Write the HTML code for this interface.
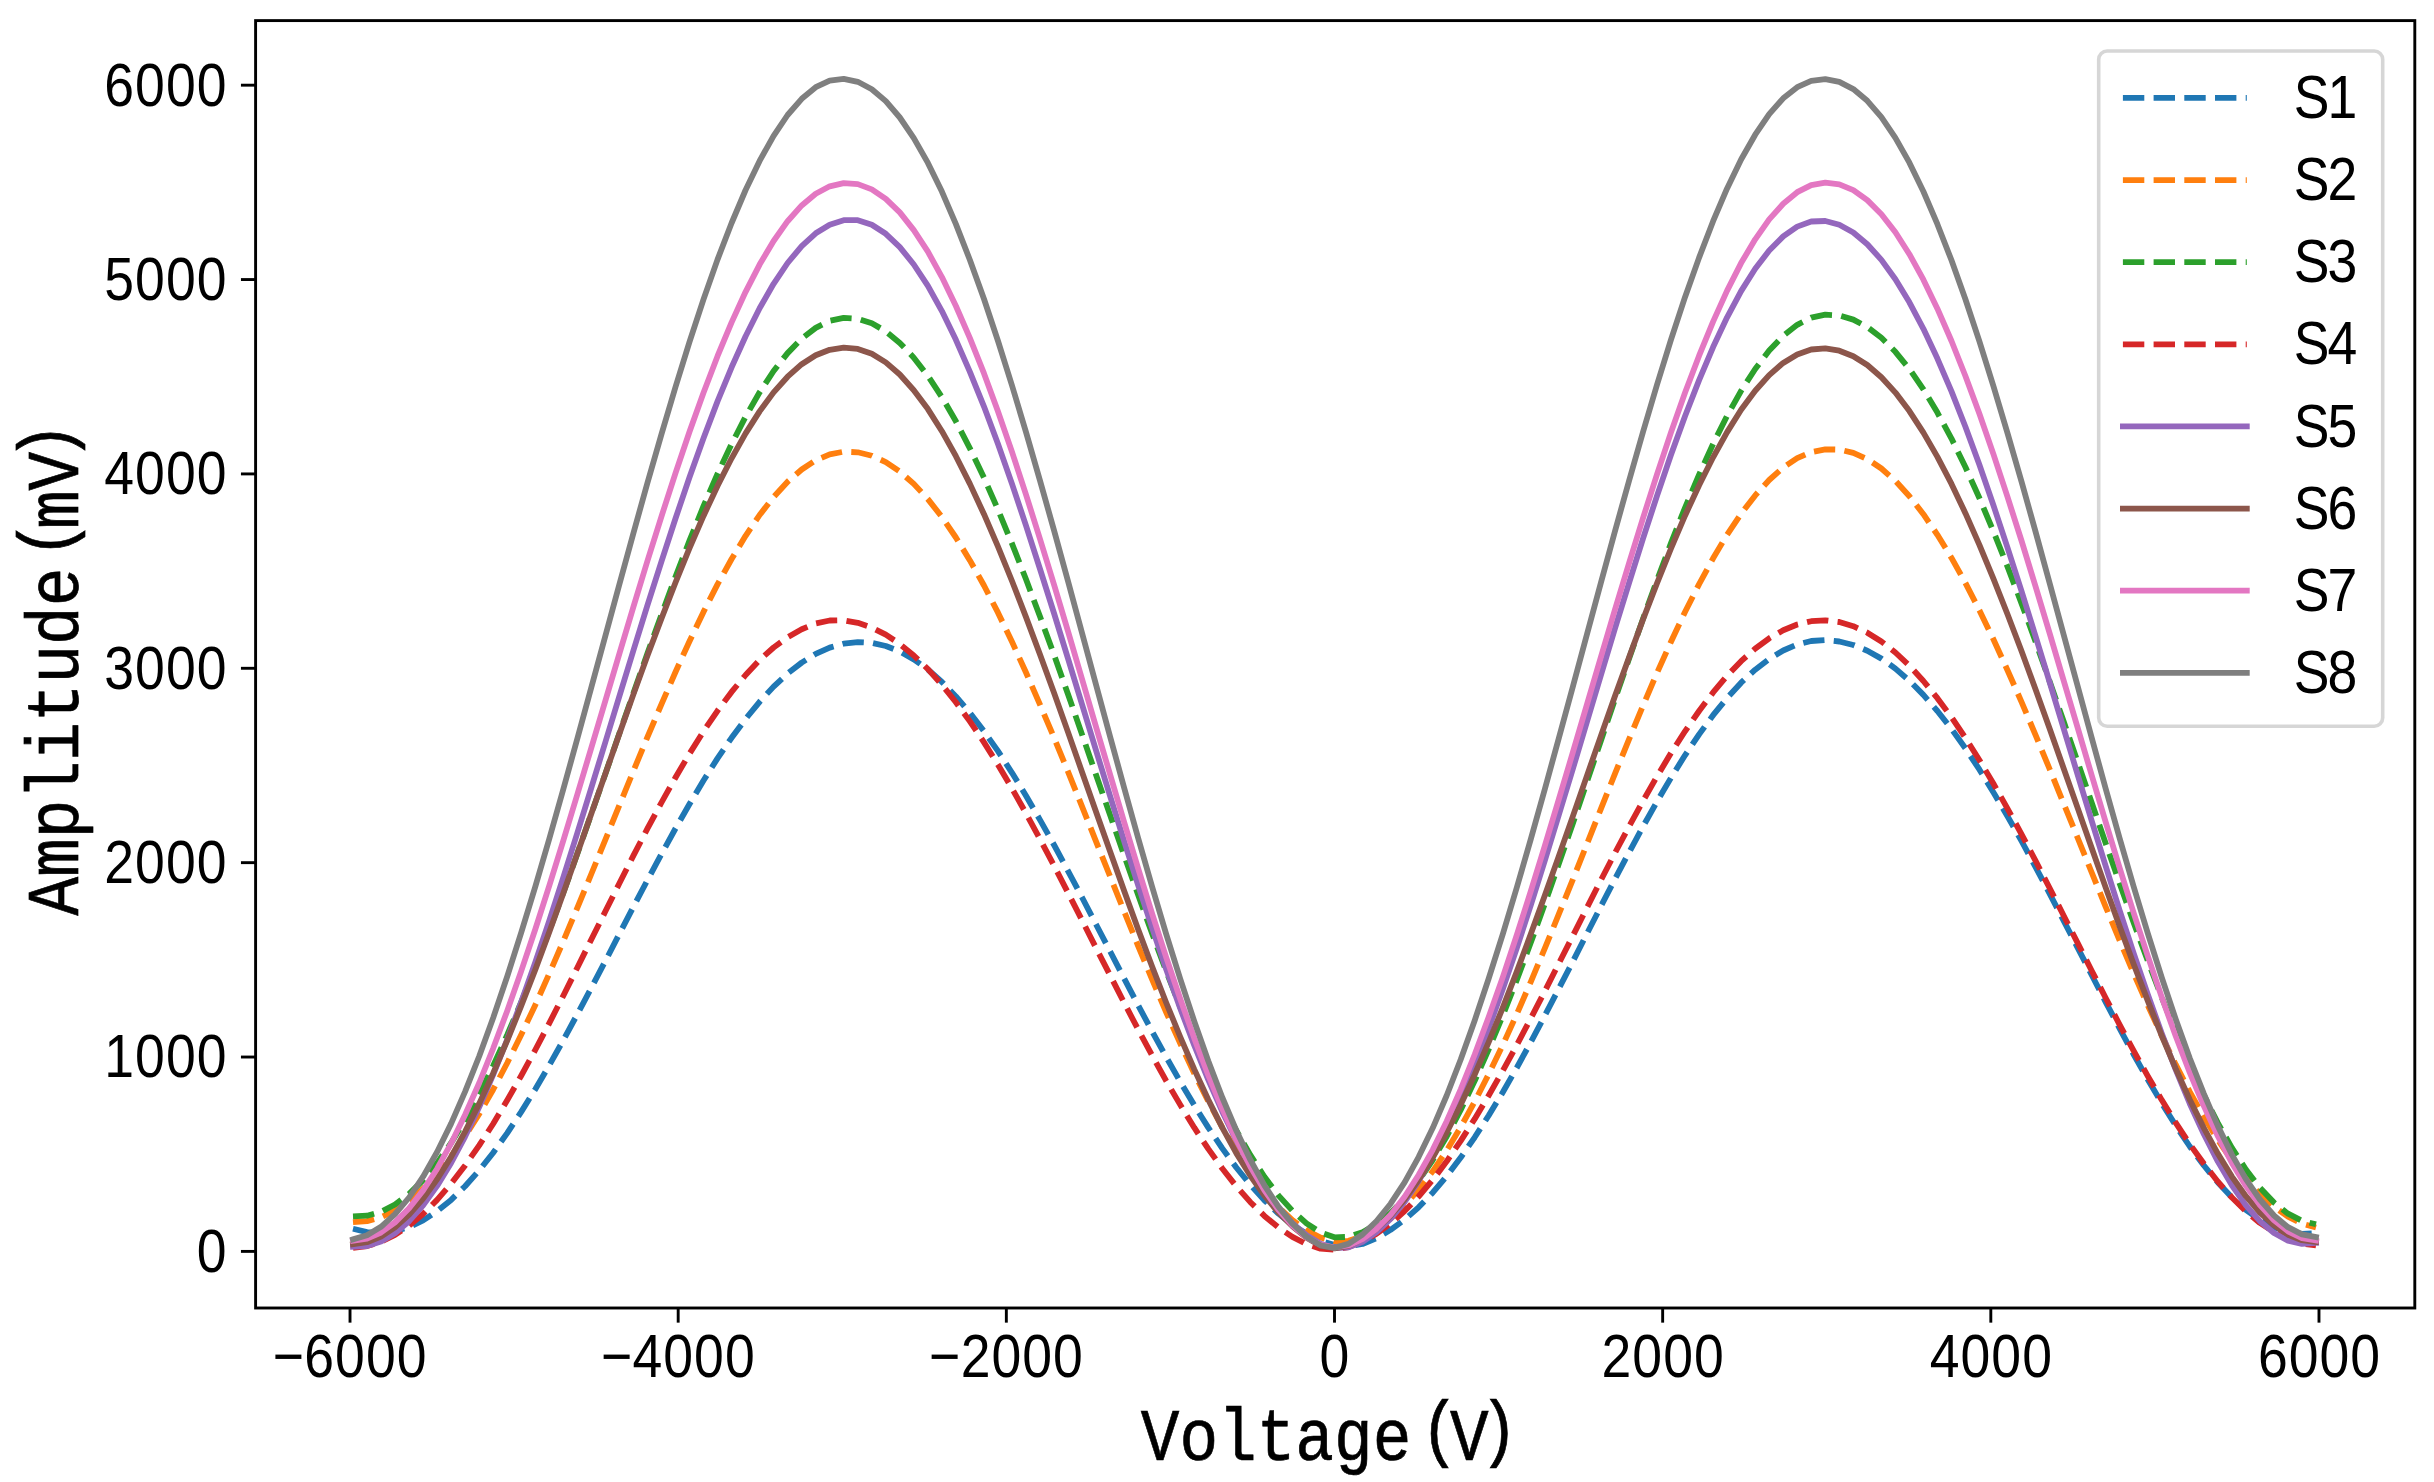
<!DOCTYPE html>
<html lang="en"><head><meta charset="utf-8"><title>Amplitude vs Voltage</title>
<style>html,body{margin:0;padding:0;background:#fff;}svg{display:block;}</style></head>
<body>
<svg width="2434" height="1482" viewBox="0 0 2434 1482">
<rect x="0" y="0" width="2434" height="1482" fill="#ffffff"/>
<g fill="none" stroke-linejoin="round">
<polyline points="353.0,1228.8 367.0,1232.1 381.0,1232.9 395.0,1231.2 409.1,1227.1 423.1,1220.4 437.1,1211.3 451.1,1199.9 465.1,1186.2 479.2,1170.4 493.2,1152.7 507.2,1133.1 521.2,1111.9 535.3,1089.2 549.3,1065.2 563.3,1040.2 577.3,1014.3 591.3,987.9 605.4,961.0 619.4,933.9 633.4,906.9 647.4,880.2 661.5,854.0 675.5,828.5 689.5,804.0 703.5,780.5 717.5,758.4 731.6,737.8 745.6,718.9 759.6,701.8 773.6,686.6 787.6,673.5 801.7,662.6 815.7,653.9 829.7,647.6 843.7,643.7 857.8,642.1 871.8,642.8 885.8,646.0 899.8,651.5 913.8,659.4 927.9,669.5 941.9,681.9 955.9,696.4 969.9,712.8 984.0,731.2 998.0,751.2 1012.0,772.8 1026.0,795.7 1040.0,819.9 1054.1,845.0 1068.1,871.0 1082.1,897.5 1096.1,924.5 1110.2,951.5 1124.2,978.6 1138.2,1005.3 1152.2,1031.6 1166.2,1057.1 1180.3,1081.8 1194.3,1105.3 1208.3,1127.6 1222.3,1148.4 1236.3,1167.5 1250.4,1184.9 1264.4,1200.3 1278.4,1213.6 1292.4,1224.8 1306.5,1233.8 1320.5,1240.6 1334.5,1245.1 1348.5,1246.5 1362.5,1244.0 1376.6,1238.1 1390.6,1229.8 1404.6,1219.7 1418.6,1207.3 1432.7,1192.7 1446.7,1176.1 1460.7,1157.6 1474.7,1137.3 1488.7,1115.5 1502.8,1092.2 1516.8,1067.7 1530.8,1042.1 1544.8,1015.7 1558.8,988.7 1572.9,961.4 1586.9,933.8 1600.9,906.3 1614.9,879.2 1629.0,852.5 1643.0,826.6 1657.0,801.6 1671.0,777.8 1685.0,755.3 1699.1,734.4 1713.1,715.2 1727.1,698.0 1741.1,682.7 1755.2,669.7 1769.2,658.9 1783.2,650.5 1797.2,644.5 1811.2,641.0 1825.3,640.1 1839.3,641.5 1853.3,645.0 1867.3,650.7 1881.4,658.6 1895.4,668.6 1909.4,680.7 1923.4,694.9 1937.4,711.0 1951.5,728.9 1965.5,748.5 1979.5,769.7 1993.5,792.4 2007.5,816.2 2021.6,841.2 2035.6,867.1 2049.6,893.6 2063.6,920.6 2077.7,947.8 2091.7,975.0 2105.7,1002.1 2119.7,1028.6 2133.7,1054.5 2147.8,1079.5 2161.8,1103.2 2175.8,1125.6 2189.8,1146.5 2203.9,1165.5 2217.9,1182.5 2231.9,1197.3 2245.9,1209.8 2259.9,1219.8 2274.0,1227.2 2288.0,1231.9 2302.0,1233.8 2316.0,1233.1" stroke="#1f77b4" stroke-width="5.8" stroke-dasharray="21.4 9.3" stroke-linecap="butt"/>
<polyline points="353.0,1222.2 367.0,1221.1 381.0,1217.2 395.0,1210.5 409.1,1200.9 423.1,1188.7 437.1,1173.8 451.1,1156.2 465.1,1136.3 479.2,1114.0 493.2,1089.5 507.2,1063.0 521.2,1034.8 535.3,1004.9 549.3,973.6 563.3,941.2 577.3,907.9 591.3,874.0 605.4,839.6 619.4,805.2 633.4,771.0 647.4,737.2 661.5,704.1 675.5,672.0 689.5,641.2 703.5,611.9 717.5,584.4 731.6,559.0 745.6,535.8 759.6,515.0 773.6,497.0 787.6,481.7 801.7,469.5 815.7,460.3 829.7,454.4 843.7,451.7 857.8,452.3 871.8,455.7 885.8,462.1 899.8,471.6 913.8,483.9 927.9,499.1 941.9,517.0 955.9,537.5 969.9,560.4 984.0,585.5 998.0,612.7 1012.0,641.8 1026.0,672.5 1040.0,704.6 1054.1,737.8 1068.1,771.9 1082.1,806.6 1096.1,841.6 1110.2,876.7 1124.2,911.6 1138.2,946.1 1152.2,979.7 1166.2,1012.3 1180.3,1043.6 1194.3,1073.4 1208.3,1101.4 1222.3,1127.4 1236.3,1151.1 1250.4,1172.4 1264.4,1191.1 1278.4,1207.0 1292.4,1220.1 1306.5,1230.2 1320.5,1237.5 1334.5,1241.2 1348.5,1240.8 1362.5,1236.4 1376.6,1228.7 1390.6,1218.5 1404.6,1205.5 1418.6,1189.7 1432.7,1171.3 1446.7,1150.4 1460.7,1127.2 1474.7,1101.7 1488.7,1074.2 1502.8,1044.9 1516.8,1014.1 1530.8,981.8 1544.8,948.4 1558.8,914.2 1572.9,879.3 1586.9,844.1 1600.9,808.9 1614.9,773.9 1629.0,739.4 1643.0,705.7 1657.0,673.0 1671.0,641.7 1685.0,612.0 1699.1,584.1 1713.1,558.3 1727.1,534.7 1741.1,513.7 1755.2,495.4 1769.2,480.0 1783.2,467.5 1797.2,458.2 1811.2,452.1 1825.3,449.3 1839.3,449.6 1853.3,452.8 1867.3,459.1 1881.4,468.5 1895.4,480.9 1909.4,496.2 1923.4,514.2 1937.4,534.8 1951.5,557.9 1965.5,583.1 1979.5,610.4 1993.5,639.5 2007.5,670.2 2021.6,702.1 2035.6,735.2 2049.6,769.0 2063.6,803.4 2077.7,838.0 2091.7,872.5 2105.7,906.8 2119.7,940.6 2133.7,973.5 2147.8,1005.3 2161.8,1035.8 2175.8,1064.7 2189.8,1091.8 2203.9,1117.0 2217.9,1139.9 2231.9,1160.5 2245.9,1178.6 2259.9,1194.1 2274.0,1206.8 2288.0,1216.6 2302.0,1223.6 2316.0,1227.5" stroke="#ff7f0e" stroke-width="5.8" stroke-dasharray="21.4 9.3" stroke-linecap="butt"/>
<polyline points="353.0,1216.3 367.0,1215.7 381.0,1211.8 395.0,1204.5 409.1,1193.9 423.1,1180.1 437.1,1163.1 451.1,1143.0 465.1,1120.0 479.2,1094.2 493.2,1065.8 507.2,1035.0 521.2,1002.1 535.3,967.2 549.3,930.7 563.3,892.8 577.3,853.8 591.3,814.0 605.4,773.7 619.4,733.3 633.4,693.1 647.4,653.4 661.5,614.5 675.5,576.8 689.5,540.6 703.5,506.2 717.5,473.9 731.6,444.0 745.6,416.7 759.6,392.3 773.6,371.0 787.6,353.1 801.7,338.7 815.7,327.9 829.7,320.8 843.7,317.8 857.8,318.7 871.8,323.3 885.8,331.3 899.8,342.9 913.8,357.7 927.9,375.9 941.9,397.1 955.9,421.3 969.9,448.3 984.0,477.8 998.0,509.7 1012.0,543.6 1026.0,579.3 1040.0,616.5 1054.1,655.0 1068.1,694.5 1082.1,734.6 1096.1,775.0 1110.2,815.4 1124.2,855.6 1138.2,895.1 1152.2,933.8 1166.2,971.2 1180.3,1007.1 1194.3,1041.3 1208.3,1073.4 1222.3,1103.2 1236.3,1130.5 1250.4,1155.1 1264.4,1176.8 1278.4,1195.4 1292.4,1210.7 1306.5,1223.3 1320.5,1232.5 1334.5,1237.3 1348.5,1236.9 1362.5,1232.2 1376.6,1224.1 1390.6,1212.9 1404.6,1198.4 1418.6,1180.8 1432.7,1160.0 1446.7,1136.4 1460.7,1109.9 1474.7,1080.8 1488.7,1049.3 1502.8,1015.6 1516.8,979.9 1530.8,942.6 1544.8,903.8 1558.8,863.9 1572.9,823.2 1586.9,782.0 1600.9,740.7 1614.9,699.5 1629.0,658.8 1643.0,618.9 1657.0,580.3 1671.0,543.1 1685.0,507.8 1699.1,474.6 1713.1,443.9 1727.1,415.8 1741.1,390.8 1755.2,369.0 1769.2,350.6 1783.2,335.8 1797.2,324.8 1811.2,317.7 1825.3,314.7 1839.3,315.5 1853.3,319.6 1867.3,327.0 1881.4,337.7 1895.4,351.8 1909.4,369.0 1923.4,389.3 1937.4,412.6 1951.5,438.6 1965.5,467.3 1979.5,498.3 1993.5,531.5 2007.5,566.7 2021.6,603.6 2035.6,641.8 2049.6,681.2 2063.6,721.3 2077.7,762.0 2091.7,802.7 2105.7,843.4 2119.7,883.5 2133.7,922.8 2147.8,960.9 2161.8,997.5 2175.8,1032.4 2189.8,1065.1 2203.9,1095.4 2217.9,1123.1 2231.9,1147.9 2245.9,1169.5 2259.9,1187.8 2274.0,1202.6 2288.0,1213.7 2302.0,1220.9 2316.0,1224.3" stroke="#2ca02c" stroke-width="5.8" stroke-dasharray="21.4 9.3" stroke-linecap="butt"/>
<polyline points="353.0,1247.9 367.0,1246.1 381.0,1241.7 395.0,1234.9 409.1,1225.6 423.1,1213.9 437.1,1199.9 451.1,1183.7 465.1,1165.5 479.2,1145.4 493.2,1123.7 507.2,1100.3 521.2,1075.7 535.3,1049.9 549.3,1023.1 563.3,995.7 577.3,967.7 591.3,939.5 605.4,911.3 619.4,883.3 633.4,855.6 647.4,828.7 661.5,802.5 675.5,777.5 689.5,753.7 703.5,731.4 717.5,710.8 731.6,691.9 745.6,675.0 759.6,660.1 773.6,647.5 787.6,637.2 801.7,629.2 815.7,623.5 829.7,620.5 843.7,620.3 857.8,622.8 871.8,627.6 885.8,634.7 899.8,644.0 913.8,655.5 927.9,669.1 941.9,684.7 955.9,702.2 969.9,721.4 984.0,742.4 998.0,764.8 1012.0,788.5 1026.0,813.3 1040.0,839.2 1054.1,865.7 1068.1,892.9 1082.1,920.4 1096.1,948.0 1110.2,975.5 1124.2,1002.8 1138.2,1029.6 1152.2,1055.7 1166.2,1080.9 1180.3,1104.9 1194.3,1127.7 1208.3,1148.9 1222.3,1168.5 1236.3,1186.3 1250.4,1202.2 1264.4,1215.9 1278.4,1227.5 1292.4,1236.8 1306.5,1244.1 1320.5,1248.7 1334.5,1249.7 1348.5,1247.1 1362.5,1241.5 1376.6,1233.7 1390.6,1223.5 1404.6,1211.1 1418.6,1196.5 1432.7,1179.9 1446.7,1161.3 1460.7,1140.9 1474.7,1118.9 1488.7,1095.4 1502.8,1070.7 1516.8,1045.0 1530.8,1018.4 1544.8,991.2 1558.8,963.5 1572.9,935.7 1586.9,907.8 1600.9,880.2 1614.9,853.1 1629.0,826.6 1643.0,801.0 1657.0,776.4 1671.0,753.1 1685.0,731.3 1699.1,711.0 1713.1,692.4 1727.1,675.8 1741.1,661.2 1755.2,648.6 1769.2,638.3 1783.2,630.3 1797.2,624.5 1811.2,621.2 1825.3,620.3 1839.3,622.0 1853.3,626.2 1867.3,632.7 1881.4,641.5 1895.4,652.5 1909.4,665.7 1923.4,681.0 1937.4,698.2 1951.5,717.2 1965.5,738.0 1979.5,760.2 1993.5,783.8 2007.5,808.6 2021.6,834.3 2035.6,860.9 2049.6,888.0 2063.6,915.5 2077.7,943.1 2091.7,970.7 2105.7,998.0 2119.7,1024.8 2133.7,1050.9 2147.8,1076.1 2161.8,1100.1 2175.8,1122.9 2189.8,1144.2 2203.9,1163.8 2217.9,1181.7 2231.9,1197.5 2245.9,1211.3 2259.9,1222.9 2274.0,1232.1 2288.0,1239.0 2302.0,1243.5 2316.0,1245.4" stroke="#d62728" stroke-width="5.8" stroke-dasharray="21.4 9.3" stroke-linecap="butt"/>
<polyline points="353.0,1246.7 367.0,1246.1 381.0,1241.6 395.0,1233.3 409.1,1221.2 423.1,1205.4 437.1,1185.9 451.1,1162.9 465.1,1136.6 479.2,1107.1 493.2,1074.6 507.2,1039.5 521.2,1001.9 535.3,962.2 549.3,920.6 563.3,877.4 577.3,833.0 591.3,787.8 605.4,742.0 619.4,696.2 633.4,650.5 647.4,605.4 661.5,561.3 675.5,518.5 689.5,477.3 703.5,438.2 717.5,401.4 731.6,367.3 745.6,336.2 759.6,308.2 773.6,283.8 787.6,263.0 801.7,246.1 815.7,233.3 829.7,224.7 843.7,220.2 857.8,220.2 871.8,224.8 885.8,233.8 899.8,247.1 913.8,264.5 927.9,285.9 941.9,311.1 955.9,339.8 969.9,371.8 984.0,406.6 998.0,444.1 1012.0,483.9 1026.0,525.6 1040.0,569.0 1054.1,613.5 1068.1,658.9 1082.1,704.7 1096.1,750.7 1110.2,796.3 1124.2,841.4 1138.2,885.4 1152.2,928.2 1166.2,969.3 1180.3,1008.5 1194.3,1045.5 1208.3,1079.9 1222.3,1111.7 1236.3,1140.5 1250.4,1166.2 1264.4,1188.6 1278.4,1207.6 1292.4,1223.1 1306.5,1235.2 1320.5,1243.8 1334.5,1248.1 1348.5,1247.4 1362.5,1241.8 1376.6,1232.1 1390.6,1218.8 1404.6,1201.8 1418.6,1181.1 1432.7,1156.9 1446.7,1129.2 1460.7,1098.4 1474.7,1064.6 1488.7,1028.1 1502.8,989.1 1516.8,948.0 1530.8,905.1 1544.8,860.6 1558.8,815.0 1572.9,768.7 1586.9,721.9 1600.9,675.1 1614.9,628.7 1629.0,583.1 1643.0,538.7 1657.0,495.8 1671.0,454.8 1685.0,416.2 1699.1,380.1 1713.1,347.1 1727.1,317.3 1741.1,291.1 1755.2,268.8 1769.2,250.5 1783.2,236.4 1797.2,226.6 1811.2,221.5 1825.3,221.0 1839.3,224.8 1853.3,232.5 1867.3,244.2 1881.4,259.9 1895.4,279.3 1909.4,302.3 1923.4,328.8 1937.4,358.6 1951.5,391.4 1965.5,427.0 1979.5,465.1 1993.5,505.5 2007.5,547.7 2021.6,591.4 2035.6,636.4 2049.6,682.2 2063.6,728.4 2077.7,774.8 2091.7,820.8 2105.7,866.2 2119.7,910.5 2133.7,953.4 2147.8,994.5 2161.8,1033.5 2175.8,1070.0 2189.8,1103.7 2203.9,1134.3 2217.9,1161.6 2231.9,1185.3 2245.9,1205.3 2259.9,1221.2 2274.0,1233.0 2288.0,1240.6 2302.0,1243.9 2316.0,1242.8" stroke="#9467bd" stroke-width="5.8" stroke-linecap="square"/>
<polyline points="353.0,1244.2 367.0,1242.2 381.0,1236.6 395.0,1227.4 409.1,1214.7 423.1,1198.6 437.1,1179.3 451.1,1156.9 465.1,1131.6 479.2,1103.6 493.2,1073.2 507.2,1040.5 521.2,1005.9 535.3,969.6 549.3,931.9 563.3,893.2 577.3,853.6 591.3,813.7 605.4,773.6 619.4,733.7 633.4,694.4 647.4,655.8 661.5,618.4 675.5,582.5 689.5,548.2 703.5,515.9 717.5,485.9 731.6,458.3 745.6,433.4 759.6,411.4 773.6,392.4 787.6,376.7 801.7,364.2 815.7,355.3 829.7,349.8 843.7,347.6 857.8,348.9 871.8,353.8 885.8,362.4 899.8,374.5 913.8,390.2 927.9,409.1 941.9,431.2 955.9,456.2 969.9,483.9 984.0,514.2 998.0,546.6 1012.0,581.0 1026.0,617.1 1040.0,654.6 1054.1,693.1 1068.1,732.4 1082.1,772.2 1096.1,812.0 1110.2,851.7 1124.2,891.0 1138.2,929.4 1152.2,966.7 1166.2,1002.7 1180.3,1037.0 1194.3,1069.4 1208.3,1099.7 1222.3,1127.7 1236.3,1153.1 1250.4,1175.8 1264.4,1195.7 1278.4,1212.5 1292.4,1226.2 1306.5,1237.7 1320.5,1245.6 1334.5,1248.4 1348.5,1245.9 1362.5,1238.9 1376.6,1228.8 1390.6,1215.7 1404.6,1199.4 1418.6,1180.0 1432.7,1157.6 1446.7,1132.5 1460.7,1104.7 1474.7,1074.5 1488.7,1042.1 1502.8,1007.7 1516.8,971.6 1530.8,934.1 1544.8,895.5 1558.8,856.1 1572.9,816.1 1586.9,775.9 1600.9,735.9 1614.9,696.2 1629.0,657.4 1643.0,619.6 1657.0,583.2 1671.0,548.5 1685.0,515.7 1699.1,485.2 1713.1,457.3 1727.1,432.1 1741.1,409.8 1755.2,390.8 1769.2,375.1 1783.2,362.9 1797.2,354.4 1811.2,349.5 1825.3,348.4 1839.3,350.7 1853.3,356.2 1867.3,365.0 1881.4,377.2 1895.4,392.6 1909.4,411.1 1923.4,432.6 1937.4,456.9 1951.5,483.9 1965.5,513.4 1979.5,545.1 1993.5,578.8 2007.5,614.3 2021.6,651.3 2035.6,689.4 2049.6,728.5 2063.6,768.2 2077.7,808.1 2091.7,848.0 2105.7,887.6 2119.7,926.5 2133.7,964.3 2147.8,1000.9 2161.8,1035.8 2175.8,1068.9 2189.8,1099.7 2203.9,1128.1 2217.9,1153.8 2231.9,1176.6 2245.9,1196.2 2259.9,1212.5 2274.0,1225.4 2288.0,1234.7 2302.0,1240.2 2316.0,1242.1" stroke="#8c564b" stroke-width="5.8" stroke-linecap="square"/>
<polyline points="353.0,1240.7 367.0,1238.6 381.0,1232.5 395.0,1222.4 409.1,1208.3 423.1,1190.4 437.1,1168.7 451.1,1143.4 465.1,1114.8 479.2,1083.0 493.2,1048.3 507.2,1010.9 521.2,971.1 535.3,929.3 549.3,885.7 563.3,840.6 577.3,794.5 591.3,747.8 605.4,700.6 619.4,653.6 633.4,606.9 647.4,561.0 661.5,516.3 675.5,473.1 689.5,431.8 703.5,392.7 717.5,356.2 731.6,322.4 745.6,291.8 759.6,264.6 773.6,241.0 787.6,221.2 801.7,205.4 815.7,193.7 829.7,186.3 843.7,183.1 857.8,184.1 871.8,189.4 885.8,198.8 899.8,212.4 913.8,230.1 927.9,251.7 941.9,277.1 955.9,306.0 969.9,338.2 984.0,373.4 998.0,411.5 1012.0,451.9 1026.0,494.6 1040.0,539.0 1054.1,584.8 1068.1,631.7 1082.1,679.2 1096.1,727.1 1110.2,774.9 1124.2,822.2 1138.2,868.6 1152.2,913.8 1166.2,957.4 1180.3,999.0 1194.3,1038.4 1208.3,1075.1 1222.3,1108.9 1236.3,1139.5 1250.4,1166.7 1264.4,1190.2 1278.4,1209.9 1292.4,1225.6 1306.5,1237.3 1320.5,1244.7 1334.5,1247.5 1348.5,1245.5 1362.5,1239.1 1376.6,1228.8 1390.6,1214.7 1404.6,1196.7 1418.6,1175.0 1432.7,1149.8 1446.7,1121.2 1460.7,1089.3 1474.7,1054.5 1488.7,1017.0 1502.8,977.1 1516.8,935.0 1530.8,891.2 1544.8,845.9 1558.8,799.4 1572.9,752.2 1586.9,704.6 1600.9,657.0 1614.9,609.8 1629.0,563.4 1643.0,518.1 1657.0,474.3 1671.0,432.4 1685.0,392.8 1699.1,355.7 1713.1,321.6 1727.1,290.6 1741.1,263.1 1755.2,239.3 1769.2,219.4 1783.2,203.7 1797.2,192.2 1811.2,185.1 1825.3,182.6 1839.3,184.3 1853.3,190.2 1867.3,200.1 1881.4,214.2 1895.4,232.3 1909.4,254.2 1923.4,279.7 1937.4,308.7 1951.5,341.0 1965.5,376.2 1979.5,414.1 1993.5,454.4 2007.5,496.9 2021.6,541.0 2035.6,586.6 2049.6,633.2 2063.6,680.4 2077.7,727.9 2091.7,775.3 2105.7,822.2 2119.7,868.2 2133.7,913.0 2147.8,956.2 2161.8,997.4 2175.8,1036.3 2189.8,1072.6 2203.9,1106.0 2217.9,1136.2 2231.9,1162.9 2245.9,1185.9 2259.9,1205.1 2274.0,1220.3 2288.0,1231.3 2302.0,1238.1 2316.0,1240.5" stroke="#e377c2" stroke-width="5.8" stroke-linecap="square"/>
<polyline points="353.0,1239.4 367.0,1235.2 381.0,1226.8 395.0,1214.2 409.1,1197.5 423.1,1176.7 437.1,1152.0 451.1,1123.6 465.1,1091.6 479.2,1056.2 493.2,1017.8 507.2,976.5 521.2,932.6 535.3,886.6 549.3,838.7 563.3,789.3 577.3,738.7 591.3,687.5 605.4,635.8 619.4,584.3 633.4,533.2 647.4,483.0 661.5,434.1 675.5,387.0 689.5,341.9 703.5,299.3 717.5,259.6 731.6,223.0 745.6,190.0 759.6,160.9 773.6,135.8 787.6,115.0 801.7,98.8 815.7,87.2 829.7,80.6 843.7,78.8 857.8,81.8 871.8,89.2 885.8,101.1 899.8,117.5 913.8,138.1 927.9,162.9 941.9,191.6 955.9,224.1 969.9,260.0 984.0,299.0 998.0,341.0 1012.0,385.5 1026.0,432.1 1040.0,480.6 1054.1,530.6 1068.1,581.6 1082.1,633.2 1096.1,685.1 1110.2,736.9 1124.2,788.0 1138.2,838.2 1152.2,887.0 1166.2,934.1 1180.3,979.0 1194.3,1021.4 1208.3,1061.0 1222.3,1097.5 1236.3,1130.5 1250.4,1159.9 1264.4,1185.3 1278.4,1206.7 1292.4,1223.7 1306.5,1236.8 1320.5,1245.3 1334.5,1247.9 1348.5,1243.9 1362.5,1234.5 1376.6,1221.0 1390.6,1203.7 1404.6,1182.4 1418.6,1157.1 1432.7,1128.1 1446.7,1095.5 1460.7,1059.5 1474.7,1020.4 1488.7,978.5 1502.8,934.1 1516.8,887.5 1530.8,839.1 1544.8,789.2 1558.8,738.2 1572.9,686.5 1586.9,634.5 1600.9,582.7 1614.9,531.4 1629.0,481.0 1643.0,432.0 1657.0,384.8 1671.0,339.7 1685.0,297.2 1699.1,257.6 1713.1,221.2 1727.1,188.4 1741.1,159.5 1755.2,134.7 1769.2,114.2 1783.2,98.3 1797.2,87.2 1811.2,80.9 1825.3,79.2 1839.3,81.9 1853.3,89.1 1867.3,100.8 1881.4,117.1 1895.4,137.8 1909.4,162.7 1923.4,191.5 1937.4,224.2 1951.5,260.3 1965.5,299.5 1979.5,341.7 1993.5,386.4 2007.5,433.2 2021.6,481.9 2035.6,531.9 2049.6,582.9 2063.6,634.5 2077.7,686.3 2091.7,737.8 2105.7,788.7 2119.7,838.5 2133.7,886.8 2147.8,933.4 2161.8,977.7 2175.8,1019.4 2189.8,1058.3 2203.9,1093.9 2217.9,1126.1 2231.9,1154.6 2245.9,1179.1 2259.9,1199.5 2274.0,1215.5 2288.0,1227.2 2302.0,1234.4 2316.0,1237.0" stroke="#7f7f7f" stroke-width="5.8" stroke-linecap="square"/>
</g>
<rect x="255.6" y="20.6" width="2159.2000000000003" height="1287.4" fill="none" stroke="#000" stroke-width="2.9" stroke-linejoin="miter"/>
<g stroke="#000" stroke-width="2.9">
<line x1="350.02" y1="1308.0" x2="350.02" y2="1322.65"/>
<line x1="678.18" y1="1308.0" x2="678.18" y2="1322.65"/>
<line x1="1006.34" y1="1308.0" x2="1006.34" y2="1322.65"/>
<line x1="1334.50" y1="1308.0" x2="1334.50" y2="1322.65"/>
<line x1="1662.66" y1="1308.0" x2="1662.66" y2="1322.65"/>
<line x1="1990.82" y1="1308.0" x2="1990.82" y2="1322.65"/>
<line x1="2318.98" y1="1308.0" x2="2318.98" y2="1322.65"/>
<line x1="255.6" y1="1251.40" x2="240.95" y2="1251.40"/>
<line x1="255.6" y1="1057.03" x2="240.95" y2="1057.03"/>
<line x1="255.6" y1="862.66" x2="240.95" y2="862.66"/>
<line x1="255.6" y1="668.29" x2="240.95" y2="668.29"/>
<line x1="255.6" y1="473.92" x2="240.95" y2="473.92"/>
<line x1="255.6" y1="279.55" x2="240.95" y2="279.55"/>
<line x1="255.6" y1="85.18" x2="240.95" y2="85.18"/>
</g>
<g font-family='"Liberation Sans", sans-serif' fill="#000">
<text transform="translate(0,1376.60) scale(0.87,1)" x="331.52 366.92 402.32 437.72 473.13" y="0" font-size="61.5" text-anchor="middle">−6000</text>
<text transform="translate(0,1376.60) scale(0.87,1)" x="708.71 744.11 779.52 814.92 850.32" y="0" font-size="61.5" text-anchor="middle">−4000</text>
<text transform="translate(0,1376.60) scale(0.87,1)" x="1085.91 1121.31 1156.71 1192.11 1227.52" y="0" font-size="61.5" text-anchor="middle">−2000</text>
<text transform="translate(0,1376.60) scale(0.87,1)" x="1533.91" y="0" font-size="61.5" text-anchor="middle">0</text>
<text transform="translate(0,1376.60) scale(0.87,1)" x="1858.00 1893.40 1928.80 1964.21" y="0" font-size="61.5" text-anchor="middle">2000</text>
<text transform="translate(0,1376.60) scale(0.87,1)" x="2235.20 2270.60 2306.00 2341.40" y="0" font-size="61.5" text-anchor="middle">4000</text>
<text transform="translate(0,1376.60) scale(0.87,1)" x="2612.39 2647.79 2683.20 2718.60" y="0" font-size="61.5" text-anchor="middle">6000</text>
<text transform="translate(0,1271.80) scale(0.87,1)" x="243.22" y="0" font-size="61.5" text-anchor="middle">0</text>
<text transform="translate(0,1077.43) scale(0.87,1)" x="137.01 172.41 207.82 243.22" y="0" font-size="61.5" text-anchor="middle">1000</text>
<text transform="translate(0,883.06) scale(0.87,1)" x="137.01 172.41 207.82 243.22" y="0" font-size="61.5" text-anchor="middle">2000</text>
<text transform="translate(0,688.69) scale(0.87,1)" x="137.01 172.41 207.82 243.22" y="0" font-size="61.5" text-anchor="middle">3000</text>
<text transform="translate(0,494.32) scale(0.87,1)" x="137.01 172.41 207.82 243.22" y="0" font-size="61.5" text-anchor="middle">4000</text>
<text transform="translate(0,299.95) scale(0.87,1)" x="137.01 172.41 207.82 243.22" y="0" font-size="61.5" text-anchor="middle">5000</text>
<text transform="translate(0,105.58) scale(0.87,1)" x="137.01 172.41 207.82 243.22" y="0" font-size="61.5" text-anchor="middle">6000</text>
<text transform="translate(0,1460.40) scale(0.8589,1)" x="1350.65 1395.65 1440.65 1485.65 1530.65 1575.65 1620.65 1676.13 1710.65 1745.17" y="0 0 0 0 0 0 0 -7.5 0 -7.5" font-size="75" text-anchor="middle" font-family='"Liberation Mono", monospace' stroke='#000' stroke-width='0.7'>Voltage(V)</text>
<text transform="translate(77.6,664.3) rotate(-90) scale(0.8589,1)" x="-270.00 -225.00 -180.00 -135.00 -90.00 -45.00 0.00 45.00 90.00 145.48 180.00 225.00 259.52" y="0 0 0 0 0 0 0 0 0 -7.5 0 0 -7.5" font-size="75" text-anchor="middle" font-family='"Liberation Mono", monospace' stroke="#000" stroke-width="0.7">Amplitude(mV)</text>
<rect x="2098.7" y="51.0" width="284.0" height="675.2" rx="8.5" ry="8.5" fill="#ffffff" fill-opacity="0.8" stroke="#cccccc" stroke-opacity="0.8" stroke-width="3.6"/>
<line x1="2122.9" y1="97.90" x2="2246.8" y2="97.90" stroke="#1f77b4" stroke-width="5.8" stroke-dasharray="21.4 9.3"/>
<text transform="translate(0,118.10) scale(0.87,1)" x="2656.90 2692.30" y="0" font-size="61.5" text-anchor="middle">S1</text>
<line x1="2122.9" y1="180.03" x2="2246.8" y2="180.03" stroke="#ff7f0e" stroke-width="5.8" stroke-dasharray="21.4 9.3"/>
<text transform="translate(0,200.23) scale(0.87,1)" x="2656.90 2692.30" y="0" font-size="61.5" text-anchor="middle">S2</text>
<line x1="2122.9" y1="262.16" x2="2246.8" y2="262.16" stroke="#2ca02c" stroke-width="5.8" stroke-dasharray="21.4 9.3"/>
<text transform="translate(0,282.36) scale(0.87,1)" x="2656.90 2692.30" y="0" font-size="61.5" text-anchor="middle">S3</text>
<line x1="2122.9" y1="344.29" x2="2246.8" y2="344.29" stroke="#d62728" stroke-width="5.8" stroke-dasharray="21.4 9.3"/>
<text transform="translate(0,364.49) scale(0.87,1)" x="2656.90 2692.30" y="0" font-size="61.5" text-anchor="middle">S4</text>
<line x1="2122.9" y1="426.42" x2="2246.8" y2="426.42" stroke="#9467bd" stroke-width="5.8" stroke-linecap="square"/>
<text transform="translate(0,446.62) scale(0.87,1)" x="2656.90 2692.30" y="0" font-size="61.5" text-anchor="middle">S5</text>
<line x1="2122.9" y1="508.55" x2="2246.8" y2="508.55" stroke="#8c564b" stroke-width="5.8" stroke-linecap="square"/>
<text transform="translate(0,528.75) scale(0.87,1)" x="2656.90 2692.30" y="0" font-size="61.5" text-anchor="middle">S6</text>
<line x1="2122.9" y1="590.68" x2="2246.8" y2="590.68" stroke="#e377c2" stroke-width="5.8" stroke-linecap="square"/>
<text transform="translate(0,610.88) scale(0.87,1)" x="2656.90 2692.30" y="0" font-size="61.5" text-anchor="middle">S7</text>
<line x1="2122.9" y1="672.81" x2="2246.8" y2="672.81" stroke="#7f7f7f" stroke-width="5.8" stroke-linecap="square"/>
<text transform="translate(0,693.01) scale(0.87,1)" x="2656.90 2692.30" y="0" font-size="61.5" text-anchor="middle">S8</text>
</g>
</svg>
</body></html>
